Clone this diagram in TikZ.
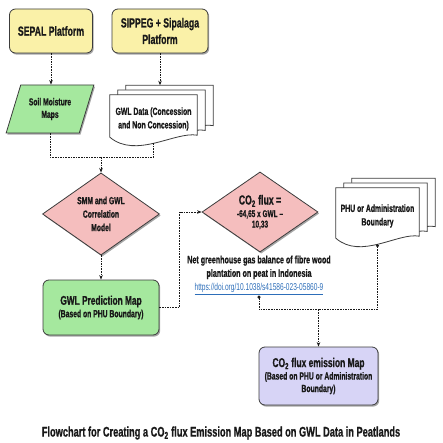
\documentclass[tikz,border=0pt]{standalone}
\usepackage{fontspec}
\setmainfont{Liberation Sans}[FakeStretch=0.66, BoldFeatures={FakeBold=0.8}]
\usetikzlibrary{shapes.geometric, arrows.meta, shadows, calc, positioning, backgrounds}

\definecolor{platyellow}{RGB}{250,241,168}
\definecolor{soilgreen}{RGB}{165,232,158}
\definecolor{corrpink}{RGB}{245,190,190}
\definecolor{mapviolet}{RGB}{215,212,246}
\definecolor{edgegray}{RGB}{60,60,60}
\definecolor{inkdark}{RGB}{25,25,25}
\definecolor{doiblue}{RGB}{45,110,185}

\newcommand{\docstack}[1]{%
  \foreach \d in {16,8,0}{%
    \draw[docline] let \p1=(#1.south west), \p2=(#1.north east), \n1={\x2-\x1} in
      (\x1+\d pt,\y1+6pt+0.6*\d pt) -- (\x1+\d pt,\y2+0.6*\d pt) -- (\x2+\d pt,\y2+0.6*\d pt)
      -- (\x2+\d pt,\y1+8pt+0.6*\d pt)
      .. controls (\x2-0.25*\n1+\d pt,\y1+12pt+0.6*\d pt) and (\x1+0.3*\n1+\d pt,\y1-16pt+0.6*\d pt) ..
      (\x1+\d pt,\y1+6pt+0.6*\d pt) -- cycle;
  }%
}

\begin{document}
\begin{tikzpicture}[x=1pt, y=-1pt,
  every node/.style={text=inkdark},
  boxshadow/.style={drop shadow={shadow xshift=1.2pt, shadow yshift=-1.6pt, fill=black, opacity=0.35}},
  platform/.style={rectangle, rounded corners=6pt, draw=edgegray, line width=0.8pt, fill=platyellow,
    align=center, boxshadow, font=\fontsize{13.2}{16.5}\selectfont\bfseries},
  soilmap/.style={trapezium, trapezium left angle=67, trapezium right angle=113, trapezium stretches=true,
    draw=edgegray, line width=0.8pt, fill=soilgreen, align=center, boxshadow,
    minimum width=88pt, minimum height=48pt, font=\fontsize{10.2}{12.5}\selectfont\bfseries},
  docnode/.style={rectangle, align=center, font=\fontsize{10.4}{13.5}\selectfont\bfseries},
  docline/.style={draw=edgegray, line width=0.8pt, fill=white},
  decision/.style={diamond, draw=edgegray, line width=0.8pt, fill=corrpink, align=center, inner sep=0pt,
    boxshadow, font=\fontsize{10.3}{13.5}\selectfont\bfseries},
  result/.style={rectangle, rounded corners=6pt, draw=edgegray, line width=0.8pt, align=center,
    boxshadow, font=\fontsize{10.3}{12.5}\selectfont\bfseries},
  link/.style={draw=inkdark, line width=0.8pt, dash pattern=on 1.6pt off 1pt},
  flow/.style={link, -{Stealth[length=4.5pt, width=3.5pt]}},
  dotlink/.style={link, {Circle[length=3pt]}-}]

  \useasboundingbox (0,0) rectangle (443,443);

  \node[platform, minimum width=83pt, minimum height=44pt] (sepal) at (51,31) {SEPAL Platform};
  \node[platform, minimum width=96pt, minimum height=44pt] (sippeg) at (160,31) {SIPPEG + Sipalaga\\Platform};

  \node[soilmap] (soil) at (50,109) {Soil Moisture\\Maps};
  \node[docnode, minimum width=87pt, minimum height=48pt] (gwldata) at (153.5,119) {GWL Data (Concession\\and Non Concession)};

  \node[decision, minimum width=117pt, minimum height=65pt] (smm) at (101,214) {SMM and GWL\\Correlation\\Model};
  \node[decision, minimum width=116pt, minimum height=70pt, font=\fontsize{9.8}{10.5}\selectfont\bfseries] (co2) at (260,212)
    {{\fontsize{13.2}{13}\selectfont CO\textsubscript{2} flux =}\\[2pt]-64,65 x GWL --\\10,33};
  \node[docnode, minimum width=83pt, minimum height=56pt] (phu) at (377.5,216) {PHU or Administration\\Boundary};

  \node[align=center, inner sep=1pt, font=\fontsize{10.8}{13.5}\selectfont\bfseries] (doiref) at (259,275)
    {Net greenhouse gas balance of fibre wood\\plantation on peat in Indonesia\\
     {\mdseries\fontsize{10}{13.5}\selectfont\color{doiblue}\underline{https://doi.org/10.1038/s41586-023-05860-9}}};

  \node[result, fill=soilgreen, minimum width=116pt, minimum height=55pt] (gwlmap) at (101,307.5)
    {{\fontsize{12.6}{15}\selectfont GWL Prediction Map}\\(Based on PHU Boundary)};
  \node[result, fill=mapviolet, minimum width=119pt, minimum height=58pt] (co2map) at (318.5,376)
    {{\fontsize{12.8}{16}\selectfont CO\textsubscript{2} flux emission Map}\\(Based on PHU or Administration\\Boundary)};

  \node[font=\fontsize{14}{16}\selectfont\bfseries] (caption) at (221,433)
    {Flowchart for Creating a CO\textsubscript{2} flux Emission Map Based on GWL Data in Peatlands};

  \begin{pgfonlayer}{background}
    \docstack{gwldata}
    \docstack{phu}
  \end{pgfonlayer}

  \coordinate (gwlback) at ($(gwldata.north)+(16,-9.6)$);
  \coordinate (merge) at (101,157);
  \coordinate (bend) at ($(co2.west)+(-22,0)$);
  \coordinate (gather) at ($(co2map.north)+(0,-37)$);

  \draw[flow] (sepal.south) -- (sepal.south |- soil.north);
  \draw[flow] (sippeg.south) -- (sippeg.south |- gwlback);
  \draw[link] (soil.south) |- (merge);
  \draw[link] (gwldata.south) |- (merge);
  \draw[flow] (merge) -- (smm.north);
  \draw[flow] (smm.south) -- (gwlmap.north);
  \draw[flow] (gwlmap.east) -| (bend) -- (co2.west);
  \draw[dotlink] (doiref.south) |- (gather);
  \draw[dotlink] (phu.south) |- (gather);
  \draw[flow] (gather) -- (co2map.north);
\end{tikzpicture}
\end{document}
